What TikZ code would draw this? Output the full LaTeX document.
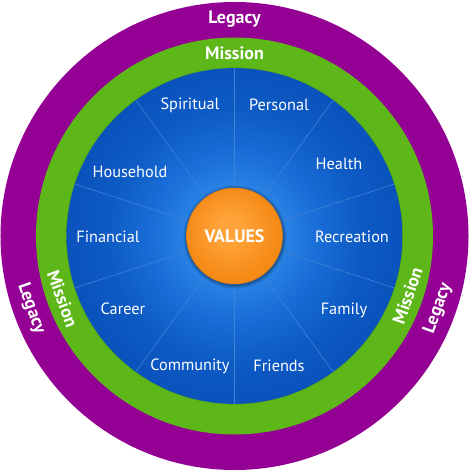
\documentclass[tikz,border=0pt]{standalone}
\usepackage{fontspec}
\setmainfont{PT Sans}
\definecolor{purp}{HTML}{930093}
\definecolor{grn}{HTML}{5DB718}
\definecolor{grndark}{HTML}{4E9E12}
\definecolor{blc}{HTML}{2A84E6}
\definecolor{blin}{HTML}{1A6FD8}
\definecolor{blmid}{HTML}{0D5AC4}
\definecolor{blout}{HTML}{0B52BC}
\definecolor{orin}{HTML}{FFA43A}
\definecolor{orout}{HTML}{F68A16}
\definecolor{ordark}{HTML}{DD7A10}
\definecolor{spoke}{HTML}{4282D4}
\pgfdeclareradialshading{bluesh}{\pgfpoint{0bp}{0bp}}{color(0bp)=(blc); color(7bp)=(blc); color(12bp)=(blin); color(19bp)=(blmid); color(25bp)=(blout); color(50bp)=(blout)}
\pgfdeclareradialshading{orsh}{\pgfpoint{-3bp}{4bp}}{color(0bp)=(orin); color(6bp)=(orin); color(24bp)=(orout); color(50bp)=(orout)}
\begin{document}
\begin{tikzpicture}[x=1pt,y=1pt,
  lbl/.style={text=white, inner sep=0pt, font=\fontsize{16.3}{16.3}\selectfont},
  ringtxt/.style={text=white, inner sep=0pt, font=\fontsize{18}{18}\selectfont\bfseries},
  spokeline/.style={draw=spoke, line width=0.6pt}]
\useasboundingbox (-234.5,-235) rectangle (234.5,236);
\fill[purp] (0,0) circle (234);
\fill[grn] (0,0) circle (198.5);
\shade[shading=bluesh] (0,0) circle (168);
\draw[grndark, line width=0.6pt, opacity=0.6] (0,0) circle (168.3);
\foreach \a in {18,54,90,126,162,198,234,270,306,342}
  \draw[spokeline] (\a:48) -- (\a:168);
\foreach \r/\o in {52/0.06,51/0.08,50/0.1,49/0.12}
  \fill[black, opacity=\o] (0.5,-1) circle (\r);
\node (values) [circle, minimum size=96pt, inner sep=0pt, shade, shading=orsh, draw=ordark, line width=0.5pt, text=white, font=\fontsize{18}{18}\selectfont\bfseries] at (0,0) {VALUES};
% segment labels
\node[lbl] (spiritual) at (-44.5,131) {Spiritual};
\node[lbl] (personal) at (44.5,131) {Personal};
\node[lbl] (household) at (-104.5,64) {Household};
\node[lbl] (health) at (104.5,72) {Health};
\node[lbl] (financial) at (-126.5,-1) {Financial};
\node[lbl] (recreation) at (117.5,-1) {Recreation};
\node[lbl] (career) at (-111.5,-73) {Career};
\node[lbl] (family) at (109.5,-74) {Family};
\node[lbl] (community) at (-44.5,-130) {Community};
\node[lbl] (friends) at (44.5,-130) {Friends};
% ring labels
\node[ringtxt] (missiontop) at (0,183) {Mission};
\node[ringtxt] (legacytop) at (0,217) {Legacy};
\node[ringtxt, rotate=290] (missionleft) at (200:183) {Mission};
\node[ringtxt, rotate=71] (missionright) at (-19:183) {Mission};
\node[ringtxt, rotate=289.6] (legacyleft) at (199.6:216) {Legacy};
\node[ringtxt, rotate=70.4] (legacyright) at (-19.6:216) {Legacy};
\end{tikzpicture}
\end{document}
